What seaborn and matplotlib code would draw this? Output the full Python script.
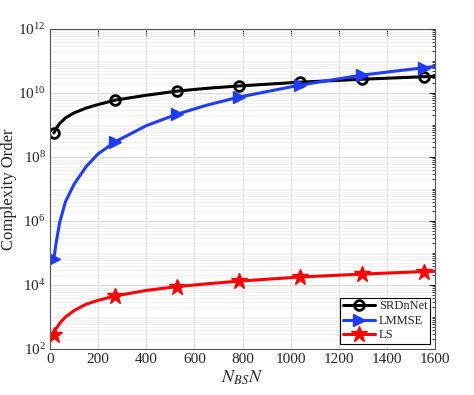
import matplotlib
matplotlib.use("Agg")
import matplotlib.pyplot as plt
import seaborn as sns
import pandas as pd
from matplotlib.ticker import FixedLocator, LogLocator, NullFormatter

# x positions (N_BS * N)
x_vals = [16, 24, 40, 64, 100, 150, 200, 272, 400, 528, 656, 784, 1040, 1296, 1552, 1600]
marker_x = [16, 272, 528, 784, 1040, 1296, 1552]

# log10 of complexity
srdnnet_log = [8.75, 8.87, 9.05, 9.22, 9.38, 9.53, 9.64, 9.78, 9.93, 10.06, 10.15, 10.22, 10.34, 10.43, 10.51, 10.52]
lmmse_log = [4.81, 5.25, 5.95, 6.6, 7.15, 7.7, 8.1, 8.48, 8.98, 9.34, 9.63, 9.87, 10.25, 10.56, 10.79, 10.83]
ls_log = [2.44, 2.62, 2.8, 3.0, 3.2, 3.4, 3.52, 3.66, 3.83, 3.95, 4.04, 4.12, 4.25, 4.34, 4.42, 4.43]

series = {
    "SRDnNet": srdnnet_log,
    "LMMSE": lmmse_log,
    "LS": ls_log,
}
styles = {
    "SRDnNet": dict(color="black", marker="o", markerfacecolor="none",
                    markeredgecolor="black", markersize=7, markeredgewidth=2),
    "LMMSE": dict(color="#1f3cff", marker=">", markerfacecolor="#1f3cff",
                  markeredgecolor="#1f3cff", markersize=9, markeredgewidth=1),
    "LS": dict(color="#ff0000", marker="*", markerfacecolor="#ff0000",
               markeredgecolor="#ff0000", markersize=12, markeredgewidth=1),
}

sns.set_style("white")
plt.rcParams["font.family"] = ["Liberation Serif", "DejaVu Serif"]
plt.rcParams["mathtext.fontset"] = "stix"

fig = plt.figure(figsize=(4.74, 3.95), dpi=100)
ax = fig.add_axes([0.1055, 0.1165, 0.8125, 0.81])

mark_idx = [x_vals.index(m) for m in marker_x]
for name, vals in series.items():
    df = pd.DataFrame({"x": x_vals, "y": [10 ** v for v in vals]})
    sns.lineplot(data=df, x="x", y="y", ax=ax, label=name, linewidth=2.2,
                 linestyle="-", markevery=mark_idx, **styles[name])

ax.set_yscale("log")
ax.set_xlim(0, 1600)
ax.set_ylim(1e2, 1e12)
ax.set_xticks(range(0, 1601, 200))
ax.yaxis.set_major_locator(FixedLocator([10.0 ** k for k in range(2, 13, 2)]))
ax.yaxis.set_minor_locator(LogLocator(base=10, subs=range(1, 10), numticks=30))
ax.yaxis.set_minor_formatter(NullFormatter())

ax.grid(True, which="major", color="#dcdcdc", linewidth=0.7)
ax.grid(True, which="minor", axis="y", color="#ececec", linewidth=0.5)
ax.tick_params(which="both", direction="in", top=True, right=True, labelsize=11,
               colors="#262626", pad=3)
ax.tick_params(which="major", length=4)
ax.tick_params(which="minor", length=2)
for sp in ax.spines.values():
    sp.set_color("#555555")
    sp.set_linewidth(0.8)

ax.set_xlabel("$N_{BS}N$", fontsize=13, labelpad=2)
ax.set_ylabel("Complexity Order", fontsize=12, labelpad=1)

leg = ax.legend(loc="lower right", fontsize=9, frameon=True, fancybox=False,
                edgecolor="black", framealpha=1, handlelength=2.6,
                borderpad=0.2, labelspacing=0.2, handletextpad=0.3, borderaxespad=0.4)
leg.get_frame().set_linewidth(0.8)

fig.savefig("out.png", dpi=100)
